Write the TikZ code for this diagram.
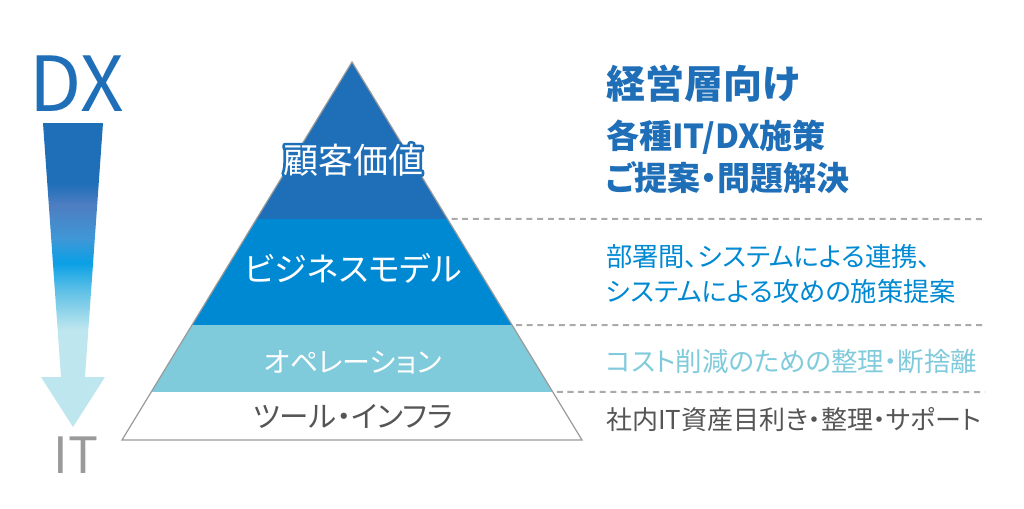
\documentclass[tikz,border=0pt]{standalone}
\usepackage{fontspec}
\setmainfont[RawFeature=+palt]{Noto Sans CJK JP}
\usetikzlibrary{calc}

\definecolor{dxblue}{HTML}{1F6FB8}
\definecolor{slateblue}{HTML}{4E7EC1}
\definecolor{midblue}{HTML}{3F97D6}
\definecolor{cyanblue}{HTML}{0AA0E6}
\definecolor{skyblue}{HTML}{5EC0E6}
\definecolor{itlight}{HTML}{BEE6EE}
\definecolor{bizblue}{HTML}{0089D3}
\definecolor{opcyan}{HTML}{80CBDB}
\definecolor{toolgray}{HTML}{555555}
\definecolor{itgray}{HTML}{9A9A9A}
\definecolor{dashgray}{HTML}{AAAAAA}

\pgfdeclareverticalshading{dxarrow}{100bp}{color(0bp)=(itlight); color(41bp)=(itlight); color(47.5bp)=(skyblue); color(52bp)=(cyanblue); color(56bp)=(midblue); color(61.5bp)=(slateblue); color(65bp)=(dxblue); color(100bp)=(dxblue)}

% outline of the top label, stroked in the layer blue
\newcommand\halotext[1]{\special{pdf:literal direct 1 j 5.5 w 0.122 0.435 0.722 RG 1 Tr}#1}

\begin{document}
\begin{tikzpicture}[x=1pt, y=-1pt,
		layertext/.style={inner sep=0pt, text=white},
		sidetext/.style={anchor=west, inner sep=0pt, align=left},
		sepline/.style={dashgray, line width=2pt, dash pattern=on 6pt off 4.7pt},
		pyramidedge/.style={itgray, line width=1.2pt, line join=miter}]
		\useasboundingbox (0,0) rectangle (1024,508);

		% DX -> IT arrow
		\node[anchor=base, inner sep=0pt, text=dxblue, font=\fontsize{76}{76}\selectfont] (dx) at (77,112) {DX};
		\node[anchor=base, inner sep=0pt, text=itgray, font=\fontsize{50}{50}\selectfont] (it) at (76,473) {IT};
		\shade[shading=dxarrow] (43,123) -- (103,123) -- (85,377) -- (105,377) -- (73,427)
			-- (41,377) -- (61,377) -- cycle;

		% pyramid
		\coordinate (apex) at (352,62);
		\coordinate (baseL) at (122,440);
		\coordinate (baseR) at (582,440);
		\coordinate (l1) at ($(apex)!0.4153!(baseL)$);
		\coordinate (r1) at ($(apex)!0.4153!(baseR)$);
		\coordinate (l2) at ($(apex)!0.6958!(baseL)$);
		\coordinate (r2) at ($(apex)!0.6958!(baseR)$);
		\coordinate (l3) at ($(apex)!0.873!(baseL)$);
		\coordinate (r3) at ($(apex)!0.873!(baseR)$);

		\fill[white] (apex) -- (baseL) -- (baseR) -- cycle;
		\fill[dxblue] (apex) -- (l1) -- (r1) -- cycle;
		\fill[bizblue] (l1) -- (l2) -- (r2) -- (r1) -- cycle;
		\fill[opcyan] (l2) -- (l3) -- (r3) -- (r2) -- cycle;
		\draw[pyramidedge] (apex) -- (baseL) -- (baseR) -- cycle;

		\node[layertext, text=dxblue, font=\fontsize{35}{35}\selectfont] (halo) at (353,160) {\halotext{顧客価値}};
		\node[layertext, font=\fontsize{35}{35}\selectfont] (value) at (halo) {顧客価値};
		\node[layertext, font=\fontsize{33}{33}\selectfont] (business) at (353,268) {ビジネスモデル};
		\node[layertext, font=\fontsize{28}{28}\selectfont] (operation) at (353,362) {オペレーション};
		\node[layertext, text=toolgray, font=\fontsize{29.5}{29.5}\selectfont] (tools) at (353,417) {ツール・インフラ};

		% separators
		\coordinate (e1) at (985,219);
		\coordinate (e2) at (985,325);
		\coordinate (e3) at (985,392);
		\draw[sepline] ($(r1)+(4,0)$) -- (e1);
		\draw[sepline] ($(r2)+(4,0)$) -- (e2);
		\draw[sepline] ($(r3)+(4,0)$) -- (e3);

		% descriptions
		\node[sidetext, text=dxblue, font=\fontsize{39}{39}\selectfont\bfseries] (exec) at (606,84) {経営層向け};
		\node[sidetext, text=dxblue, font=\fontsize{33}{42}\selectfont\bfseries] (measures) at (606,157) {各種IT/DX施策\\ご提案・問題解決};
		\node[sidetext, text=bizblue, font=\fontsize{26.3}{35}\selectfont] (link) at (606,274.5) {部署間、システムによる連携、\\システムによる攻めの施策提案};
		\node[sidetext, text=opcyan, font=\fontsize{26.5}{26.5}\selectfont] (cost) at (606,362) {コスト削減のための整理・断捨離};
		\node[sidetext, text=toolgray, font=\fontsize{26}{26}\selectfont] (assets) at (606,420) {社内IT資産目利き・整理・サポート};
	\end{tikzpicture}
\end{document}
